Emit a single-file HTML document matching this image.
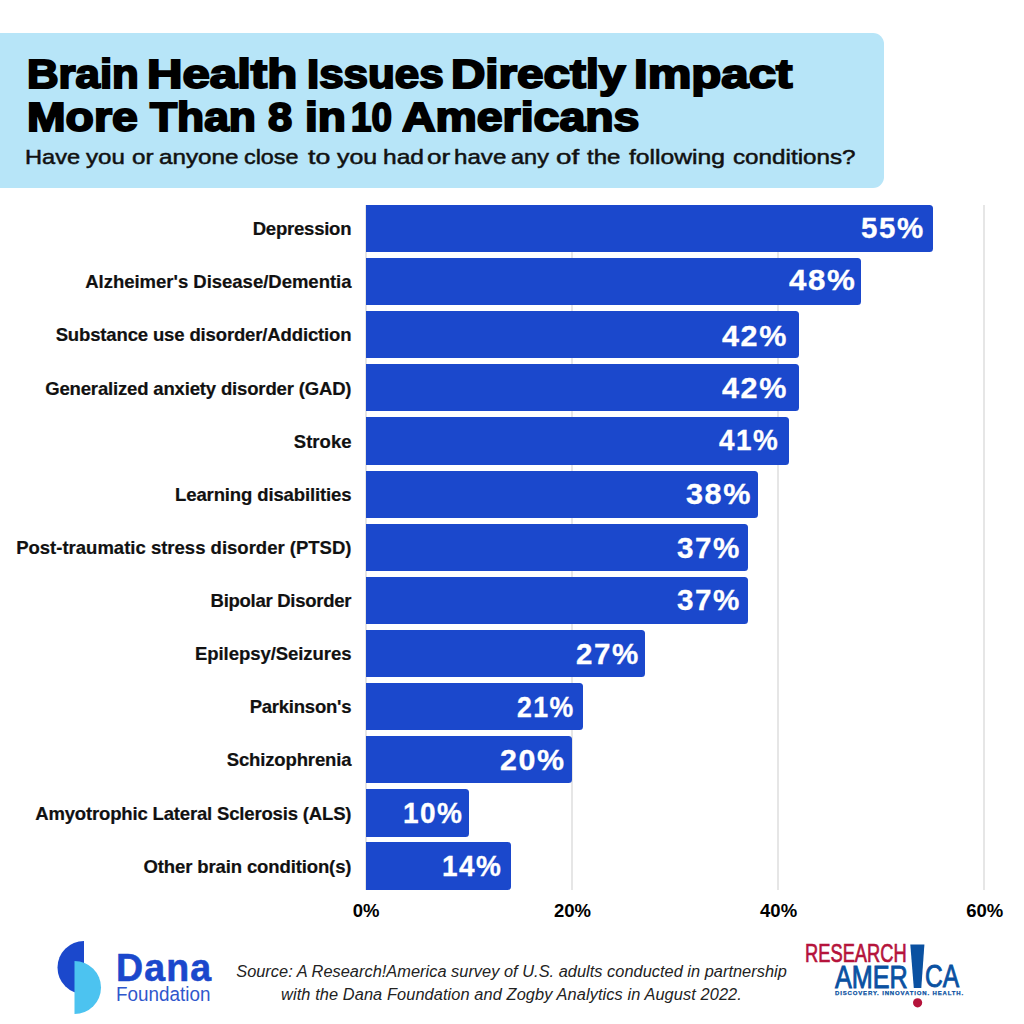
<!DOCTYPE html>
<html><head><meta charset="utf-8"><style>
html,body{margin:0;padding:0;}
body{width:1024px;height:1024px;position:relative;overflow:hidden;background:#fff;font-family:"Liberation Sans",sans-serif;}
.hdr{position:absolute;left:0;top:33px;width:883.5px;height:155.2px;background:#b7e5f8;border-radius:0 11px 11px 0;}
.t{position:absolute;left:27px;white-space:nowrap;font-weight:bold;color:#000;font-size:40px;line-height:42px;-webkit-text-stroke:2px #000;transform-origin:0 0;}
.sub{position:absolute;left:28px;top:145px;white-space:nowrap;color:#111;font-size:21px;line-height:24px;-webkit-text-stroke:0.5px #111;transform-origin:0 0;}
.grid{position:absolute;top:205px;height:685px;width:2px;background:#e6e6e6;}
.bar{position:absolute;left:365.5px;background:#1b48cc;border-radius:0 3.5px 3.5px 0;}
.pct{position:absolute;height:28px;line-height:28px;white-space:nowrap;color:#fff;font-weight:bold;font-size:28.6px;-webkit-text-stroke:0.3px #fff;transform-origin:0 0;}
.lab{position:absolute;right:672.5px;white-space:nowrap;font-weight:bold;color:#111;font-size:18.5px;display:flex;align-items:center;-webkit-text-stroke:0.2px #111;}
.tick{position:absolute;top:900px;width:60px;margin-left:-30px;text-align:center;font-weight:bold;font-size:18.5px;color:#000;line-height:22px;}
.src{position:absolute;left:0;width:1023px;text-align:center;font-style:italic;font-size:16.35px;color:#222;white-space:nowrap;}
</style></head><body>
<div class="hdr"></div>

<div class="t" style="top:52.5px;left:26.73px;transform:scaleX(1.0935)">Brain</div>
<div class="t" style="top:52.5px;left:147.29px;transform:scaleX(1.2289)">Health</div>
<div class="t" style="top:52.5px;left:306.98px;transform:scaleX(1.0964)">Issues</div>
<div class="t" style="top:52.5px;left:450.73px;transform:scaleX(1.1894)">Directly</div>
<div class="t" style="top:52.5px;left:633.78px;transform:scaleX(1.2282)">Impact</div>
<div class="t" style="top:96px;left:26.91px;transform:scaleX(1.1581)">More</div>
<div class="t" style="top:96px;left:150.27px;transform:scaleX(1.1089)">Than</div>
<div class="t" style="top:96px;left:268.31px;transform:scaleX(1.0858)">8</div>
<div class="t" style="top:96px;left:304.78px;transform:scaleX(1.1510)">in</div>
<div class="t" style="top:96px;left:351.34px;transform:scaleX(0.9181)">10</div>
<div class="t" style="top:96px;left:402.29px;transform:scaleX(1.1606)">Americans</div>

<div class="sub" style="left:25.22px;transform:scaleX(1.1236)">Have</div>
<div class="sub" style="left:86.49px;transform:scaleX(1.1476)">you</div>
<div class="sub" style="left:131.53px;transform:scaleX(1.1546)">or</div>
<div class="sub" style="left:159.43px;transform:scaleX(1.1542)">anyone</div>
<div class="sub" style="left:243.50px;transform:scaleX(1.1124)">close</div>
<div class="sub" style="left:308.06px;transform:scaleX(1.2711)">to</div>
<div class="sub" style="left:336.56px;transform:scaleX(1.1875)">you</div>
<div class="sub" style="left:382.54px;transform:scaleX(1.1694)">had</div>
<div class="sub" style="left:427.20px;transform:scaleX(1.2420)">or</div>
<div class="sub" style="left:454.32px;transform:scaleX(1.1491)">have</div>
<div class="sub" style="left:511.49px;transform:scaleX(1.1185)">any</div>
<div class="sub" style="left:556.12px;transform:scaleX(1.3202)">of</div>
<div class="sub" style="left:586.64px;transform:scaleX(1.1458)">the</div>
<div class="sub" style="left:628.80px;transform:scaleX(1.1757)">following</div>
<div class="sub" style="left:733.12px;transform:scaleX(1.1534)">conditions?</div>

<div class="grid" style="left:364.60px"></div>
<div class="grid" style="left:570.80px"></div>
<div class="grid" style="left:777.00px"></div>
<div class="grid" style="left:983.20px"></div>
<div class="bar" style="top:204.80px;height:47.2px;width:567.75px"></div>
<div class="pct" style="top:214.30px;left:861.41px;letter-spacing:1.5px;transform:scaleX(1.0310)">55%</div>
<div class="lab" style="top:205.50px;height:47.2px;letter-spacing:-0.222px;margin-right:0.222px">Depression</div>
<div class="bar" style="top:257.94px;height:47.2px;width:495.58px"></div>
<div class="pct" style="top:265.74px;left:788.53px;letter-spacing:1.5px;transform:scaleX(1.0946)">48%</div>
<div class="lab" style="top:258.64px;height:47.2px;letter-spacing:-0.011px;margin-right:0.011px">Alzheimer&#39;s Disease/Dementia</div>
<div class="bar" style="top:311.08px;height:47.2px;width:433.72px"></div>
<div class="pct" style="top:322.18px;left:721.92px;letter-spacing:1.5px;transform:scaleX(1.0685)">42%</div>
<div class="lab" style="top:311.78px;height:47.2px;letter-spacing:-0.139px;margin-right:0.139px">Substance use disorder/Addiction</div>
<div class="bar" style="top:364.22px;height:47.2px;width:433.72px"></div>
<div class="pct" style="top:373.67px;left:721.92px;letter-spacing:1.5px;transform:scaleX(1.0685)">42%</div>
<div class="lab" style="top:364.92px;height:47.2px;letter-spacing:-0.158px;margin-right:0.158px">Generalized anxiety disorder (GAD)</div>
<div class="bar" style="top:417.36px;height:47.2px;width:423.41px"></div>
<div class="pct" style="top:425.66px;left:719.39px;letter-spacing:1.5px;transform:scaleX(0.9739)">41%</div>
<div class="lab" style="top:418.06px;height:47.2px;letter-spacing:0.020px;margin-right:-0.020px">Stroke</div>
<div class="bar" style="top:470.50px;height:47.2px;width:392.48px"></div>
<div class="pct" style="top:480.30px;left:685.52px;letter-spacing:1.5px;transform:scaleX(1.0701)">38%</div>
<div class="lab" style="top:471.20px;height:47.2px;letter-spacing:-0.120px;margin-right:0.120px">Learning disabilities</div>
<div class="bar" style="top:523.64px;height:47.2px;width:382.17px"></div>
<div class="pct" style="top:534.34px;left:676.91px;letter-spacing:1.5px;transform:scaleX(1.0359)">37%</div>
<div class="lab" style="top:524.34px;height:47.2px;letter-spacing:0.006px;margin-right:-0.006px">Post-traumatic stress disorder (PTSD)</div>
<div class="bar" style="top:576.78px;height:47.2px;width:382.17px"></div>
<div class="pct" style="top:586.43px;left:676.91px;letter-spacing:1.5px;transform:scaleX(1.0359)">37%</div>
<div class="lab" style="top:577.48px;height:47.2px;letter-spacing:-0.267px;margin-right:0.267px">Bipolar Disorder</div>
<div class="bar" style="top:629.92px;height:47.2px;width:279.07px"></div>
<div class="pct" style="top:640.02px;left:575.51px;letter-spacing:1.5px;transform:scaleX(1.0326)">27%</div>
<div class="lab" style="top:630.62px;height:47.2px;letter-spacing:-0.044px;margin-right:0.044px">Epilepsy/Seizures</div>
<div class="bar" style="top:683.06px;height:47.2px;width:217.21px"></div>
<div class="pct" style="top:693.16px;left:516.88px;letter-spacing:1.5px;transform:scaleX(0.9331)">21%</div>
<div class="lab" style="top:683.76px;height:47.2px;letter-spacing:-0.230px;margin-right:0.230px">Parkinson&#39;s</div>
<div class="bar" style="top:736.20px;height:47.2px;width:206.90px"></div>
<div class="pct" style="top:746.35px;left:499.82px;letter-spacing:1.5px;transform:scaleX(1.0636)">20%</div>
<div class="lab" style="top:736.90px;height:47.2px;letter-spacing:-0.142px;margin-right:0.142px">Schizophrenia</div>
<div class="bar" style="top:789.34px;height:47.2px;width:103.80px"></div>
<div class="pct" style="top:799.14px;left:403.49px;letter-spacing:1.5px;transform:scaleX(0.9804)">10%</div>
<div class="lab" style="top:790.04px;height:47.2px;letter-spacing:-0.162px;margin-right:0.162px">Amyotrophic Lateral Sclerosis (ALS)</div>
<div class="bar" style="top:842.48px;height:47.2px;width:145.04px"></div>
<div class="pct" style="top:852.28px;left:442.19px;letter-spacing:1.5px;transform:scaleX(0.9772)">14%</div>
<div class="lab" style="top:843.18px;height:47.2px;letter-spacing:-0.117px;margin-right:0.117px">Other brain condition(s)</div>
<div class="tick" style="left:366.20px">0%</div>
<div class="tick" style="left:572.40px">20%</div>
<div class="tick" style="left:778.60px">40%</div>
<div class="tick" style="left:984.80px">60%</div>
<div class="src" style="top:962px;letter-spacing:0.03px">Source: A Research!America survey of U.S. adults conducted in partnership</div>
<div class="src" style="top:984.5px;letter-spacing:0.1px">with the Dana Foundation and Zogby Analytics in August 2022.</div>
<svg style="position:absolute;left:0;top:0" width="1024" height="1024" viewBox="0 0 1024 1024">
<path d="M84 941 A26.5 26.5 0 0 0 84 994 Z" fill="#1b48cc"/>
<path d="M74.5 961 A26.5 26.5 0 0 1 74.5 1014 Z" fill="#4cc3f0"/>
</svg>
<div style="position:absolute;left:115.5px;top:948px;font-size:38px;line-height:40px;font-weight:bold;color:#1b48cc;-webkit-text-stroke:0.6px #1b48cc;letter-spacing:1.2px;transform:scaleX(0.985);transform-origin:0 0;">Dana</div>
<div style="position:absolute;left:116px;top:982.5px;font-size:20.5px;line-height:22px;color:#2f57cc;transform:scaleX(0.92);transform-origin:0 0;">Foundation</div>
<div style="position:absolute;left:805px;top:939px;font-size:25.6px;line-height:28px;color:#b5133b;-webkit-text-stroke:0.7px #b5133b;transform:scaleX(0.715);transform-origin:0 0;">RESEARCH</div>
<div style="position:absolute;left:834.5px;top:959.5px;font-size:31.5px;line-height:34px;color:#0a51a1;-webkit-text-stroke:0.9px #0a51a1;transform:scaleX(0.8);transform-origin:0 0;">AMER</div>
<div style="position:absolute;left:925px;top:959px;font-size:31.5px;line-height:34px;color:#0a51a1;-webkit-text-stroke:0.9px #0a51a1;transform:scaleX(0.78);transform-origin:0 0;">CA</div>
<svg style="position:absolute;left:0;top:0" width="1024" height="1024" viewBox="0 0 1024 1024">
<path d="M910.3 944.4 L924.4 944.4 L921.3 988 L913.8 988 Z" fill="#0a51a1"/>
<circle cx="917.6" cy="1002.8" r="4.6" fill="#b5133b"/>
</svg>
<div style="position:absolute;left:835px;top:990px;font-size:6px;line-height:6px;font-weight:bold;color:#0a51a1;letter-spacing:0.85px;-webkit-text-stroke:0.25px #0a51a1;">DISCOVERY. INNOVATION. HEALTH.</div>
</body></html>
